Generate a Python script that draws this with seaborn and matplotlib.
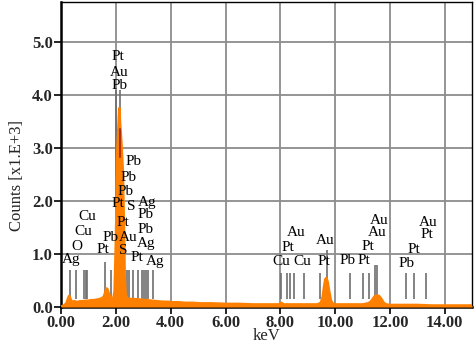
import matplotlib
matplotlib.use("Agg")
import matplotlib.pyplot as plt
import seaborn as sns
import pandas as pd

# spectrum (keV, counts x1e3)
kev = [0.00, 0.05, 0.10, 0.15, 0.20, 0.25, 0.29, 0.33, 0.37, 0.42, 0.48, 0.55, 0.62,
       0.70, 0.80, 0.90, 1.00, 1.10, 1.20, 1.30, 1.40, 1.50, 1.56, 1.61, 1.65, 1.69,
       1.73, 1.79, 1.85, 1.91, 1.95, 1.98, 2.01, 2.04, 2.08, 2.12, 2.16, 2.20, 2.25,
       2.29, 2.32, 2.35, 2.39, 2.45, 2.55, 2.70, 2.90, 3.10, 3.30, 3.50, 3.70, 3.90,
       4.10, 4.30, 4.50, 4.80, 5.10, 5.50, 6.00, 6.50, 7.00, 7.50, 7.95, 8.04, 8.12,
       8.50, 9.00, 9.35, 9.48, 9.55, 9.60, 9.64, 9.68, 9.73, 9.79, 9.85, 9.92, 10.02,
       10.5, 11.0, 11.2, 11.3, 11.37, 11.44, 11.52, 11.60, 11.68, 11.76, 11.86, 12.0,
       12.5, 13.0, 13.5, 14.0, 14.5, 15.0]
counts = [0.01, 0.02, 0.03, 0.05, 0.08, 0.16, 0.21, 0.17, 0.12, 0.10, 0.11, 0.10, 0.10,
          0.11, 0.11, 0.12, 0.12, 0.13, 0.13, 0.14, 0.15, 0.17, 0.20, 0.28, 0.35, 0.34,
          0.27, 0.20, 0.17, 0.17, 0.30, 0.90, 1.60, 2.80, 3.30, 3.75, 3.40, 3.10, 2.60,
          1.60, 0.60, 0.25, 0.18, 0.16, 0.15, 0.15, 0.14, 0.13, 0.12, 0.11, 0.10, 0.10,
          0.09, 0.09, 0.08, 0.08, 0.07, 0.07, 0.06, 0.06, 0.05, 0.05, 0.05, 0.08, 0.05,
          0.05, 0.05, 0.05, 0.08, 0.20, 0.40, 0.52, 0.55, 0.47, 0.28, 0.12, 0.06, 0.05,
          0.05, 0.05, 0.07, 0.10, 0.15, 0.20, 0.22, 0.21, 0.16, 0.09, 0.05, 0.04,
          0.04, 0.04, 0.03, 0.03, 0.03, 0.03]

# dark overlay inside the main peak
overlay_kev = [2.13, 2.13]
overlay_counts = [3.35, 2.82]

# element marker lines: position, top
marker_kev = [0.33, 0.55, 0.82, 0.90, 0.96, 1.61, 1.83, 2.01, 2.16, 2.30, 2.40, 2.46,
              2.64, 2.79, 2.95, 3.03, 3.10, 3.17, 3.37, 8.03, 8.25, 8.37, 8.49, 8.88,
              9.44, 9.69, 10.53, 11.01, 11.22, 11.44, 11.54, 12.57, 12.89, 13.33]
marker_top = [0.70, 0.70, 0.70, 0.70, 0.70, 0.85, 0.70, 4.10, 4.10, 0.83, 0.70, 0.70,
              0.70, 0.70, 0.70, 0.70, 0.70, 0.70, 0.70, 0.64, 0.64, 0.64, 0.64, 0.64,
              0.64, 1.07, 0.64, 0.64, 0.64, 0.79, 0.79, 0.64, 0.64, 0.64]

# element labels
label_text = ["Pt", "Au", "Pb", "Pb", "Pb", "Pb", "Pt", "S", "Ag", "Pb", "Pt", "Pb",
              "Pb", "Au", "Ag", "Pt", "S", "Pt", "Ag", "Ag", "O", "Cu", "Cu",
              "Cu", "Pt", "Au", "Cu", "Pt", "Au", "Pb", "Pt", "Pt", "Au", "Au",
              "Pb", "Pt", "Pt", "Au"]
label_kev = [2.08, 2.12, 2.12, 2.63, 2.45, 2.34, 2.08, 2.56, 3.14, 3.07, 2.27, 3.07,
             1.79, 2.45, 3.11, 1.54, 2.27, 2.78, 3.44, 0.37, 0.58, 0.80, 0.95,
             8.04, 8.26, 8.59, 8.81, 9.58, 9.65, 10.45, 11.04, 11.18, 11.55, 11.59,
             12.61, 12.87, 13.34, 13.38]
label_counts = [4.72, 4.42, 4.17, 2.74, 2.45, 2.17, 1.96, 1.89, 1.98, 1.74, 1.60, 1.47,
                1.32, 1.32, 1.19, 1.08, 1.06, 0.94, 0.85, 0.89, 1.15, 1.43, 1.70,
                0.85, 1.13, 1.40, 0.85, 0.85, 1.26, 0.87, 0.87, 1.15, 1.40, 1.64,
                0.83, 1.09, 1.36, 1.60]

x_ticks = [0, 2, 4, 6, 8, 10, 12, 14]
y_ticks = [0, 1, 2, 3, 4, 5]

sns.set_style("whitegrid", {"grid.color": "#8c8c8c", "axes.edgecolor": "black"})
plt.rcParams['font.family'] = ['Liberation Serif', 'DejaVu Serif']

df = pd.DataFrame({"keV": kev, "counts": counts})

fig = plt.figure(figsize=(4.74, 3.45), dpi=100)
ax = fig.add_axes([0.129, 0.110, 0.867, 0.884])

ax.vlines(marker_kev, 0.15, marker_top, color="#6e6e6e", linewidth=1.2, zorder=2)
ax.fill_between(df["keV"], 0, df["counts"], color="#ff8000", linewidth=0, zorder=3)
sns.lineplot(data=df, x="keV", y="counts", ax=ax, color="#ff8000", linewidth=1.8,
             zorder=4, estimator=None, sort=False)
ax.plot(overlay_kev, overlay_counts, color="#b03000", linewidth=1.5, zorder=5)

for t, x, y in zip(label_text, label_kev, label_counts):
    ax.text(x, y, t, ha="center", va="center", fontsize=11, color="black", zorder=6)

ax.set_xlim(0, 15)
ax.set_ylim(0, 5.75)
ax.set_xticks(x_ticks)
ax.set_yticks(y_ticks)
ax.set_xticklabels([f"{v:.2f}" for v in x_ticks], fontsize=12, fontweight="bold")
ax.set_yticklabels([f"{v:.1f}" for v in y_ticks], fontsize=12, fontweight="bold")
ax.tick_params(axis="both", direction="out", length=5, width=1.2, color="black",
               bottom=True, left=True, pad=1)
ax.grid(True, linewidth=1.3, color="#8c8c8c")
for s in ax.spines.values():
    s.set_color("black")
    s.set_linewidth(1.0)
ax.spines["left"].set_linewidth(1.8)
ax.spines["bottom"].set_linewidth(1.8)

ax.set_xlabel("keV", fontsize=12)
ax.xaxis.set_label_coords(0.5, -0.07)
ax.set_ylabel("Counts [x1.E+3]", fontsize=12)
ax.yaxis.set_label_coords(-0.088, 0.43)

fig.savefig("out.png", dpi=100)
